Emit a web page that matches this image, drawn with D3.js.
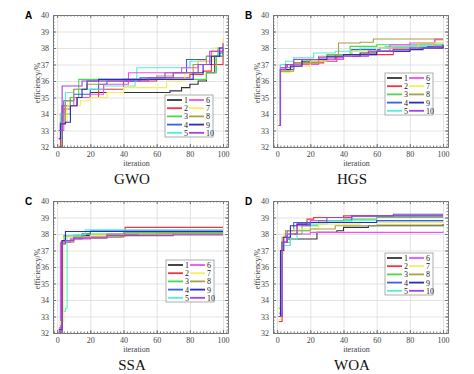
<!DOCTYPE html>
<html lang="en">
<head>
<meta charset="UTF-8">
<title>Efficiency convergence</title>
<script src="https://d3js.org/d3.v7.min.js"></script>
<style>
  body { margin: 0; background: #fff; }
  text { font-family: "Liberation Serif", "DejaVu Serif", serif; }
</style>
</head>
<body>
<script>
// series labels and colours (legend)
const seriesNames = ["1", "2", "3", "4", "5", "6", "7", "8", "9", "10"];
const seriesColors = ["#333333", "#f2333d", "#4fd64f", "#3b5fe2", "#52f0d2",
                      "#f04ff0", "#f2f055", "#a8a042", "#2a2ac6", "#a342e0"];

const xTicks = [0, 20, 40, 60, 80, 100];
const yTicks = [32, 33, 34, 35, 36, 37, 38, 39, 40];

// step points [iteration, efficiency %], one list per run
const gwo = [
  [[1,32],[3,34.5],[8,35],[20,35.3],[68,35.4],[75,35.6],[80,35.8],[85,36],[90,36.5],[95,37.5],[100,38]],
  [[1,32],[2,34],[4,34.3],[8,34.5],[12,35],[25,35.5],[40,36],[60,36.2],[80,36.4],[88,36.6],[93,37],[100,37.5]],
  [[1,33],[3,34],[8,35],[13,36.1],[85,36.1],[90,36.5],[96,37.5],[100,38]],
  [[1,33],[2,33.5],[4,34.8],[10,35.2],[20,35.5],[25,35.8],[30,36],[50,36.2],[65,36.5],[78,37.3],[90,37.5],[98,37.7],[100,37.7]],
  [[1,33],[2,34],[5,35.3],[10,35.5],[28,35.7],[47,36],[48,36.8],[76,36.8],[80,37.2],[90,37.5],[97,38],[100,38]],
  [[1,32.5],[2,33],[4,34.5],[10,35],[20,35.2],[28,35.8],[43,36.5],[75,36.8],[85,37.2],[93,37.8],[100,38.2]],
  [[1,33],[2,33.5],[6,34.5],[14,34.8],[20,35],[30,35.3],[40,35.6],[66,36],[77,36.5],[85,37.2],[94,38],[100,38.6]],
  [[1,33],[2,33.5],[5,34.8],[10,35.5],[18,35.8],[25,36],[40,36.1],[60,36.3],[70,36.5],[82,37],[90,37.5],[97,38],[100,38]],
  [[1,32.5],[2,33.4],[5,33.5],[8,34.5],[12,35],[15,35.5],[18,36],[25,36.1],[80,36.1],[82,36.5],[88,37],[93,37.5],[98,38],[100,38]],
  [[1,33],[3,35.7],[15,36],[55,36.2],[70,36.5],[85,37],[92,37.8],[100,38.3]]
];
const hgs = [
  [[1,33.3],[2,36.8],[6,37],[15,37.2],[30,37.3],[35,37.5],[50,37.7],[60,37.8],[80,38],[100,38.05]],
  [[1,33.3],[2,37],[10,37.1],[28,37.2],[36,37.5],[50,37.6],[70,38],[85,38.3],[95,38.5],[100,38.5]],
  [[1,33.3],[2,36.6],[8,37],[18,37.3],[30,37.6],[44,38.1],[60,38.2],[100,38.2]],
  [[1,33.3],[2,36.7],[10,37],[20,37.3],[40,37.6],[45,37.9],[62,38],[80,38.1],[100,38.2]],
  [[1,33.3],[2,37],[5,37.2],[10,37.4],[22,37.7],[35,37.8],[50,38],[65,38.1],[90,38.3],[100,38.3]],
  [[1,33.3],[2,36.8],[10,37],[25,37.3],[40,37.6],[55,37.8],[68,38.2],[80,38.3],[95,38.55],[100,38.55]],
  [[1,33.3],[2,36.5],[8,36.9],[20,37.2],[30,37.5],[45,37.8],[60,38],[85,38.3],[100,38.4]],
  [[1,33.3],[2,36.6],[10,37.1],[25,37.5],[35,37.6],[37,38.3],[50,38.35],[58,38.55],[100,38.55]],
  [[1,33.3],[2,36.7],[8,36.9],[15,37.3],[30,37.5],[40,37.6],[60,37.8],[80,37.9],[88,38],[100,38.2]],
  [[1,33.3],[2,36.7],[5,37],[10,37.3],[25,37.4],[40,37.5],[55,37.8],[70,37.9],[80,38],[95,38.1],[100,38.1]]
];
const ssa = [
  [[1,32.2],[3,37.5],[4,37.8],[5,37.9],[40,37.95],[70,38.05],[100,38.05]],
  [[1,32.1],[3,37.6],[10,37.8],[30,38],[41,38.4],[100,38.4]],
  [[1,32],[2,37.4],[4,37.9],[15,38],[40,38.1],[100,38.1]],
  [[1,32.3],[3,37.5],[8,37.7],[15,38],[20,38.2],[100,38.2]],
  [[1,32],[3,33.3],[5,33.5],[6,37.9],[10,37.95],[17,38.25],[100,38.25]],
  [[1,32],[2,37.5],[8,37.7],[20,37.8],[38,37.85],[41,38],[100,38]],
  [[1,32.5],[2,32.7],[4,37.8],[20,37.9],[50,38],[100,38]],
  [[1,32],[3,37.5],[10,37.8],[40,38],[60,38.05],[100,38.05]],
  [[1,32.2],[3,37.6],[5,38.15],[100,38.15]],
  [[1,32],[3,37.4],[5,37.6],[10,37.75],[30,37.9],[70,37.95],[100,37.95]]
];
const woa = [
  [[1,33],[3,37.5],[6,37.7],[24,38.1],[36,38.2],[40,38.4],[55,38.5],[100,38.6]],
  [[1,32.7],[3,37.3],[8,38],[12,38.6],[18,38.9],[22,39],[40,39.1],[100,39.1]],
  [[1,33.5],[3,37.5],[8,38],[15,38.5],[25,38.8],[40,38.9],[60,39],[100,39]],
  [[1,33],[3,37.5],[6,38.2],[10,38.7],[30,38.8],[45,39.1],[70,39.2],[100,39.2]],
  [[1,33.5],[3,37.3],[8,37.7],[12,38.2],[20,38.6],[30,38.8],[100,38.85]],
  [[1,33],[3,37.5],[6,38],[20,38.1],[100,38.15]],
  [[1,32.8],[2,36.8],[4,38],[10,38.3],[25,38.6],[50,38.7],[100,38.75]],
  [[1,33.2],[3,37.8],[5,38.2],[20,38.3],[35,38.5],[60,38.55],[100,38.6]],
  [[1,33],[2,37],[4,37.8],[8,38.5],[12,38.6],[20,38.7],[60,38.8],[100,38.8]],
  [[1,33],[3,37.5],[6,38],[12,38.5],[20,38.8],[30,39],[45,39.1],[100,39.1]]
];

const W = 474, H = 374;
const svg = d3.select("body").append("svg")
  .attr("width", W).attr("height", H);

const panels = [
  { letter: "A", name: "GWO", data: gwo, left: 53,  top: 15,  lx: 112, ly: 80 },
  { letter: "B", name: "HGS", data: hgs, left: 273, top: 15,  lx: 112, ly: 58 },
  { letter: "C", name: "SSA", data: ssa, left: 53,  top: 201, lx: 113, ly: 59 },
  { letter: "D", name: "WOA", data: woa, left: 273, top: 201, lx: 112, ly: 52 }
];
const pw = 175, ph = 132;

panels.forEach(p => {
  const g = svg.append("g").attr("transform", `translate(${p.left},${p.top})`);
  const x = d3.scaleLinear().domain([-2.5, 103]).range([0, pw]);
  const y = d3.scaleLinear().domain([32, 40]).range([ph, 0]);

  // grid
  g.append("g").attr("class", "grid")
    .call(d3.axisLeft(y).tickValues(yTicks).tickSize(-pw).tickFormat(""))
    .call(a => a.select(".domain").remove());
  g.append("g").attr("class", "grid").attr("transform", `translate(0,${ph})`)
    .call(d3.axisBottom(x).tickValues(xTicks).tickSize(-ph).tickFormat(""))
    .call(a => a.select(".domain").remove());
  g.selectAll(".grid line").attr("stroke", "#dcdcdc").attr("stroke-width", 0.8);

  // curves
  const line = d3.line()
    .x(d => x(d[0])).y(d => y(d[1]))
    .curve(d3.curveStepAfter);
  const clipId = "clip" + p.letter;
  g.append("clipPath").attr("id", clipId)
    .append("rect").attr("width", pw).attr("height", ph);
  g.append("g").attr("clip-path", `url(#${clipId})`)
    .selectAll("path").data(p.data).join("path")
    .attr("d", line)
    .attr("fill", "none")
    .attr("stroke", (d, i) => seriesColors[i])
    .attr("stroke-width", 1.1);

  // frame with inward ticks
  const minorX = d3.range(-2, 103, 2);
  const minorY = d3.range(32, 40.01, 0.2);
  const frameAxes = [
    [d3.axisBottom(x), `translate(0,${ph})`, minorX, xTicks, true],
    [d3.axisTop(x), "translate(0,0)", minorX, xTicks, true],
    [d3.axisLeft(y), "translate(0,0)", minorY, yTicks, false],
    [d3.axisRight(y), `translate(${pw},0)`, minorY, yTicks, false]
  ];
  frameAxes.forEach(([ax, tr, minor, major]) => {
    g.append("g").attr("transform", tr)
      .call(ax.tickValues(minor).tickSize(-1.5).tickFormat("").tickSizeOuter(0))
      .call(a => a.selectAll("line").attr("stroke", "#777"))
      .call(a => a.select(".domain").attr("stroke", "#777"));
    g.append("g").attr("transform", tr)
      .call(ax.tickValues(major).tickSize(-3).tickFormat("").tickSizeOuter(0))
      .call(a => a.selectAll("line").attr("stroke", "#777"))
      .call(a => a.select(".domain").attr("stroke", "#777"));
  });

  // tick labels
  g.append("g").attr("transform", `translate(0,${ph})`)
    .call(d3.axisBottom(x).tickValues(xTicks).tickSize(0).tickPadding(4))
    .call(a => a.select(".domain").remove());
  g.append("g")
    .call(d3.axisLeft(y).tickValues(yTicks).tickSize(0).tickPadding(4))
    .call(a => a.select(".domain").remove());
  g.selectAll(".tick text")
    .style("font-family", '"Liberation Serif", serif')
    .style("font-size", "8px").attr("fill", "#444");

  // axis titles
  g.append("text").attr("x", pw / 2 - 4).attr("y", ph + 19)
    .attr("text-anchor", "middle").attr("fill", "#444")
    .style("font-size", "8px").text("iteration");
  g.append("text")
    .attr("transform", `translate(-13,${ph / 2 + 2}) rotate(-90)`)
    .attr("text-anchor", "middle").attr("fill", "#444")
    .style("font-size", "8px").text("efficiency/%");

  // panel letter and algorithm name
  svg.append("text").attr("x", p.left - 28).attr("y", p.top + 4)
    .style("font-family", '"Liberation Sans", Arial, sans-serif')
    .style("font-weight", "bold").style("font-size", "10px")
    .text(p.letter);
  svg.append("text").attr("x", p.left + 79).attr("y", p.top + 169)
    .attr("text-anchor", "middle")
    .style("font-size", "15px").attr("fill", "#111")
    .text(p.name);

  // legend
  const lg = g.append("g").attr("transform", `translate(${p.lx},${p.ly})`);
  lg.append("rect").attr("width", 48).attr("height", 42)
    .attr("fill", "#fff").attr("stroke", "#999").attr("stroke-width", 0.8);
  seriesNames.forEach((name, i) => {
    const col = Math.floor(i / 5), row = i % 5;
    const ox = col === 0 ? 2 : 24, oy = 5 + row * 8.2;
    lg.append("line")
      .attr("x1", ox).attr("x2", ox + 15)
      .attr("y1", oy).attr("y2", oy)
      .attr("stroke", seriesColors[i]).attr("stroke-width", 1.8);
    lg.append("text").attr("x", ox + 17).attr("y", oy + 3)
      .style("font-size", "8px").attr("fill", "#222").text(name);
  });
});
</script>
</body>
</html>
